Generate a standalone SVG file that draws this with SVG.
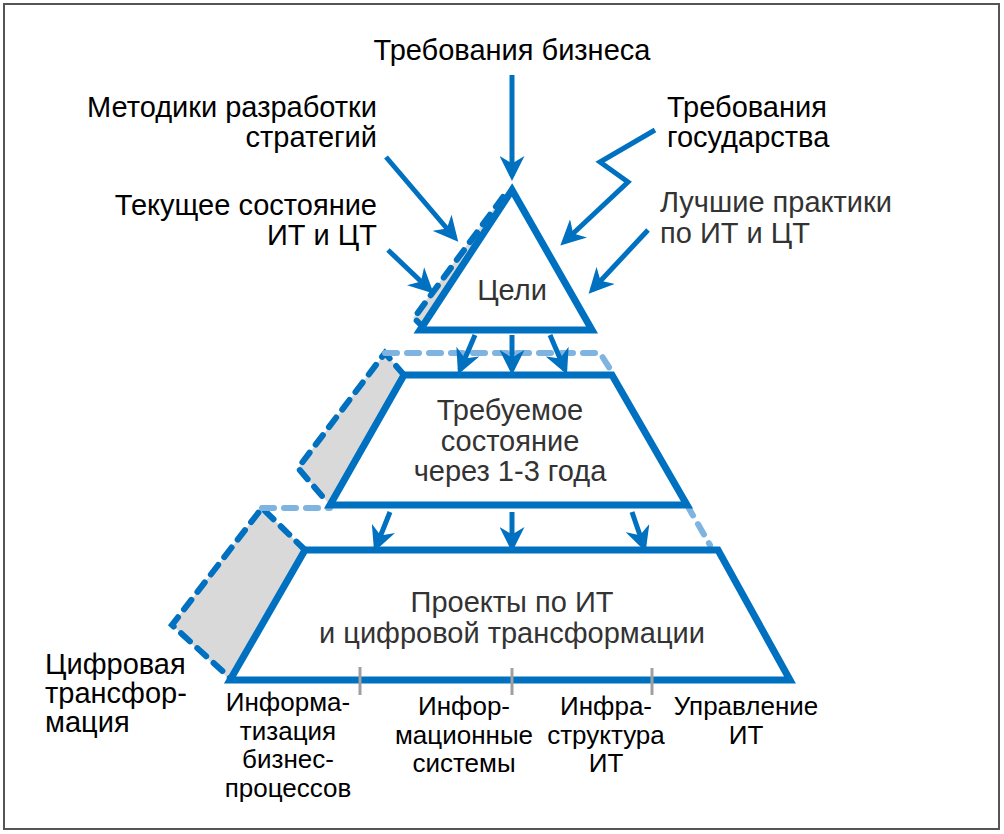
<svg xmlns="http://www.w3.org/2000/svg" width="1004" height="834" viewBox="0 0 1004 834">
<defs>
<marker id="ah" viewBox="0 0 10 10" refX="8" refY="5" markerWidth="5" markerHeight="5" orient="auto" markerUnits="strokeWidth"><path d="M0,0 L10,5 L0,10 L3,5 z" fill="#0070c0"/></marker>
<style>
text{font-family:"Liberation Sans",Arial,sans-serif;font-size:29px;fill:#000}
.in{fill:#333}
.b{font-size:26px}
.n{fill:#fff;stroke:#0070c0;stroke-width:7;stroke-linejoin:miter}
.sh{fill:#d9d9d9;stroke:none}
.d{fill:none;stroke:#0070c0;stroke-width:6;stroke-dasharray:12 10;stroke-linecap:round}
.ld{fill:none;stroke:#7fb3e0;stroke-width:6;stroke-dasharray:12 10;stroke-linecap:round}
.a{fill:none;stroke:#0070c0;stroke-width:5;marker-end:url(#ah)}
.t{stroke:#a0a0a0;stroke-width:3}
</style>
</defs>
<rect x="4" y="4" width="995" height="825" fill="#fff" stroke="#555" stroke-width="2"/>
<g id="shadows">
<polygon class="sh" points="500,200 413,318 424,328 466,262"/>
<polygon class="sh" points="385,353 298,468 330,505 404,375"/>
<polygon class="sh" points="262,508 172,625 230,680 305,550"/>
<polyline class="d" points="503,197 414,318 424,328"/>
<polyline class="d" points="404,375 385,353 298,468 328,503"/>
<polyline class="ld" points="385,353 600,353 612,372"/>
<polyline class="d" points="305,550 262,508 172,625 230,678"/>
<polyline class="ld" points="262,508 330,508"/>
<polyline class="ld" points="687,505 710,545"/>
</g>
<g id="connectors">
<line class="a" x1="512" y1="75" x2="512" y2="176"/>
<line class="a" x1="386" y1="157" x2="455" y2="238"/>
<line class="a" x1="388" y1="250" x2="430" y2="290"/>
<polyline class="a" points="655,130 600,162 628,182 564,242"/>
<line class="a" x1="648" y1="230" x2="592" y2="290"/>
<line class="a" x1="475" y1="335" x2="460" y2="370"/>
<line class="a" x1="512" y1="335" x2="512" y2="370"/>
<line class="a" x1="550" y1="335" x2="565" y2="370"/>
<line class="a" x1="390" y1="512" x2="376" y2="547"/>
<line class="a" x1="512" y1="512" x2="512" y2="547"/>
<line class="a" x1="632" y1="512" x2="644" y2="547"/>
</g>
<g id="goals"><polygon class="n" points="512,190 592,330 420,330"/><text x="512" y="300" text-anchor="middle" class="in">Цели</text></g>
<g id="state"><polygon class="n" points="404,375 612,375 687,505 330,505"/>
<text text-anchor="middle" class="in"><tspan x="510" y="420">Требуемое</tspan><tspan x="510" y="451">состояние</tspan><tspan x="510" y="481">через 1-3 года</tspan></text></g>
<g id="projects"><polygon class="n" points="305,550 718,550 790,680 230,680"/>
<text text-anchor="middle" class="in"><tspan x="512" y="612">Проекты по ИТ</tspan><tspan x="512" y="643">и цифровой трансформации</tspan></text>
<line class="t" x1="360" y1="667" x2="360" y2="695"/><line class="t" x1="512" y1="668" x2="512" y2="695"/><line class="t" x1="652" y1="668" x2="652" y2="695"/></g>
<g id="labels">
<text x="512" y="60" text-anchor="middle">Требования бизнеса</text>
<text text-anchor="end"><tspan x="377" y="117">Методики разработки</tspan><tspan x="377" y="147">стратегий</tspan></text>
<text text-anchor="end"><tspan x="377" y="215">Текущее состояние</tspan><tspan x="377" y="245">ИТ и ЦТ</tspan></text>
<text><tspan x="667" y="117">Требования</tspan><tspan x="667" y="147">государства</tspan></text>
<text class="in"><tspan x="660" y="212">Лучшие практики</tspan><tspan x="660" y="243">по ИТ и ЦТ</tspan></text>
<text><tspan x="45" y="674">Цифровая</tspan><tspan x="45" y="703">трансфор-</tspan><tspan x="45" y="732">мация</tspan></text>
<text text-anchor="middle" class="b"><tspan x="288" y="711">Информа-</tspan><tspan x="288" y="740">тизация</tspan><tspan x="288" y="768">бизнес-</tspan><tspan x="288" y="797">процессов</tspan></text>
<text text-anchor="middle" class="b"><tspan x="464" y="715">Инфор-</tspan><tspan x="464" y="744">мационные</tspan><tspan x="464" y="772">системы</tspan></text>
<text text-anchor="middle" class="b"><tspan x="606" y="715">Инфра-</tspan><tspan x="606" y="744">структура</tspan><tspan x="606" y="772">ИТ</tspan></text>
<text text-anchor="middle" class="b"><tspan x="746" y="715">Управление</tspan><tspan x="746" y="744">ИТ</tspan></text>
</g>
</svg>
